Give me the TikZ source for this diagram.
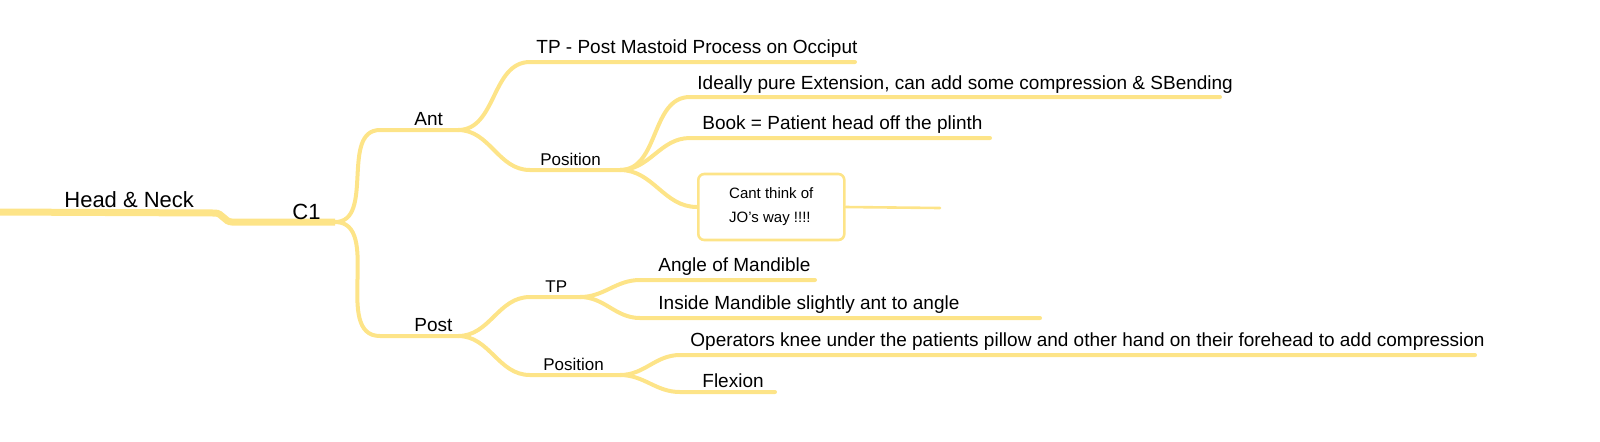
\documentclass[tikz,border=0pt]{standalone}
\usepackage{fontspec}
\setmainfont{Liberation Sans}
\begin{document}
\begin{tikzpicture}[x=0.5pt,y=-0.5pt,
  br/.style={draw=yellow!60!orange!45, line width=2pt, line cap=round},
  lbl/.style={anchor=south west, inner sep=1pt, font=\fontsize{9.5}{10}\selectfont},
  sm/.style={font=\fontsize{7.5}{12}\selectfont, align=left}]
% coordinates
\coordinate (r0) at (0,212); \coordinate (r1) at (215,213);
\coordinate (c0) at (232,222); \coordinate (c1) at (335,222);
\coordinate (a0) at (380,130); \coordinate (a1) at (458,130);
\coordinate (p0) at (380,336); \coordinate (p1) at (458,336);
\coordinate (tp0) at (530,62); \coordinate (tp1) at (855,62);
\coordinate (ps0) at (530,170); \coordinate (ps1) at (620,170);
\coordinate (i0) at (690,97); \coordinate (i1) at (1220,97);
\coordinate (b0) at (690,138); \coordinate (b1) at (990,138);
\coordinate (k0) at (697,207); \coordinate (k1) at (940,208);
\coordinate (t0) at (530,297); \coordinate (t1) at (580,297);
\coordinate (am0) at (640,280); \coordinate (am1) at (815,280);
\coordinate (in0) at (640,318); \coordinate (in1) at (1040,318);
\coordinate (q0) at (530,375); \coordinate (q1) at (620,375);
\coordinate (o0) at (680,355); \coordinate (o1) at (1475,355);
\coordinate (f0) at (680,392); \coordinate (f1) at (775,392);
% branches
\draw[br, line width=3.5pt, line cap=butt] (r0) -- (r1) to[out=0,in=180] (c0) -- (c1);
\draw[br] (c1) to[out=0,in=180] (a0) -- (a1);
\draw[br] (c1) to[out=0,in=180] (p0) -- (p1);
\draw[br] (a1) to[out=0,in=180] (tp0) -- (tp1);
\draw[br] (a1) to[out=0,in=180] (ps0) -- (ps1);
\draw[br] (ps1) to[out=0,in=180] (i0) -- (i1);
\draw[br] (ps1) to[out=0,in=180] (b0) -- (b1);
\draw[br] (ps1) to[out=0,in=180] (k0);
\draw[br] (p1) to[out=0,in=180] (t0) -- (t1);
\draw[br] (p1) to[out=0,in=180] (q0) -- (q1);
\draw[br] (t1) to[out=0,in=180] (am0) -- (am1);
\draw[br] (t1) to[out=0,in=180] (in0) -- (in1);
\draw[br] (q1) to[out=0,in=180] (o0) -- (o1);
\draw[br] (q1) to[out=0,in=180] (f0) -- (f1);
\node[draw=yellow!60!orange!45, line width=1.3pt, rounded corners=3pt, minimum width=73pt, minimum height=33pt, sm, anchor=west] (box) at (k0) {Cant think of\\JO's way !!!!};
\draw[br, line width=1.3pt] (box.east) -- (k1);
% labels
\node[lbl, font=\fontsize{11}{12}\selectfont] (hn) at (62,210) {Head \& Neck};
\node[lbl, font=\fontsize{11}{12}\selectfont] (c1l) at (290,222) {C1};
\node[lbl] (ant) at (412,128) {Ant};
\node[lbl] (post) at (412,334) {Post};
\node[lbl] (tpl) at (534,60) {TP - Post Mastoid Process on Occiput};
\node[lbl, font=\fontsize{8.5}{10}\selectfont] (posl) at (538,168) {Position};
\node[lbl] (il) at (695,96) {Ideally pure Extension, can add some compression \& SBending};
\node[lbl] (bl) at (700,136) {Book = Patient head off the plinth};
\node[lbl, font=\fontsize{8.5}{10}\selectfont] (tpp) at (543,295) {TP};
\node[lbl] (aml) at (656,278) {Angle of Mandible};
\node[lbl] (inl) at (656,316) {Inside Mandible slightly ant to angle};
\node[lbl, font=\fontsize{8.5}{10}\selectfont] (pos2) at (541,373) {Position};
\node[lbl] (ol) at (688,353) {Operators knee under the patients pillow and other hand on their forehead to add compression};
\node[lbl] (fl) at (700,390) {Flexion};
\pgfresetboundingbox
\useasboundingbox (0,0) rectangle (1600,441);
\end{tikzpicture}
\end{document}
